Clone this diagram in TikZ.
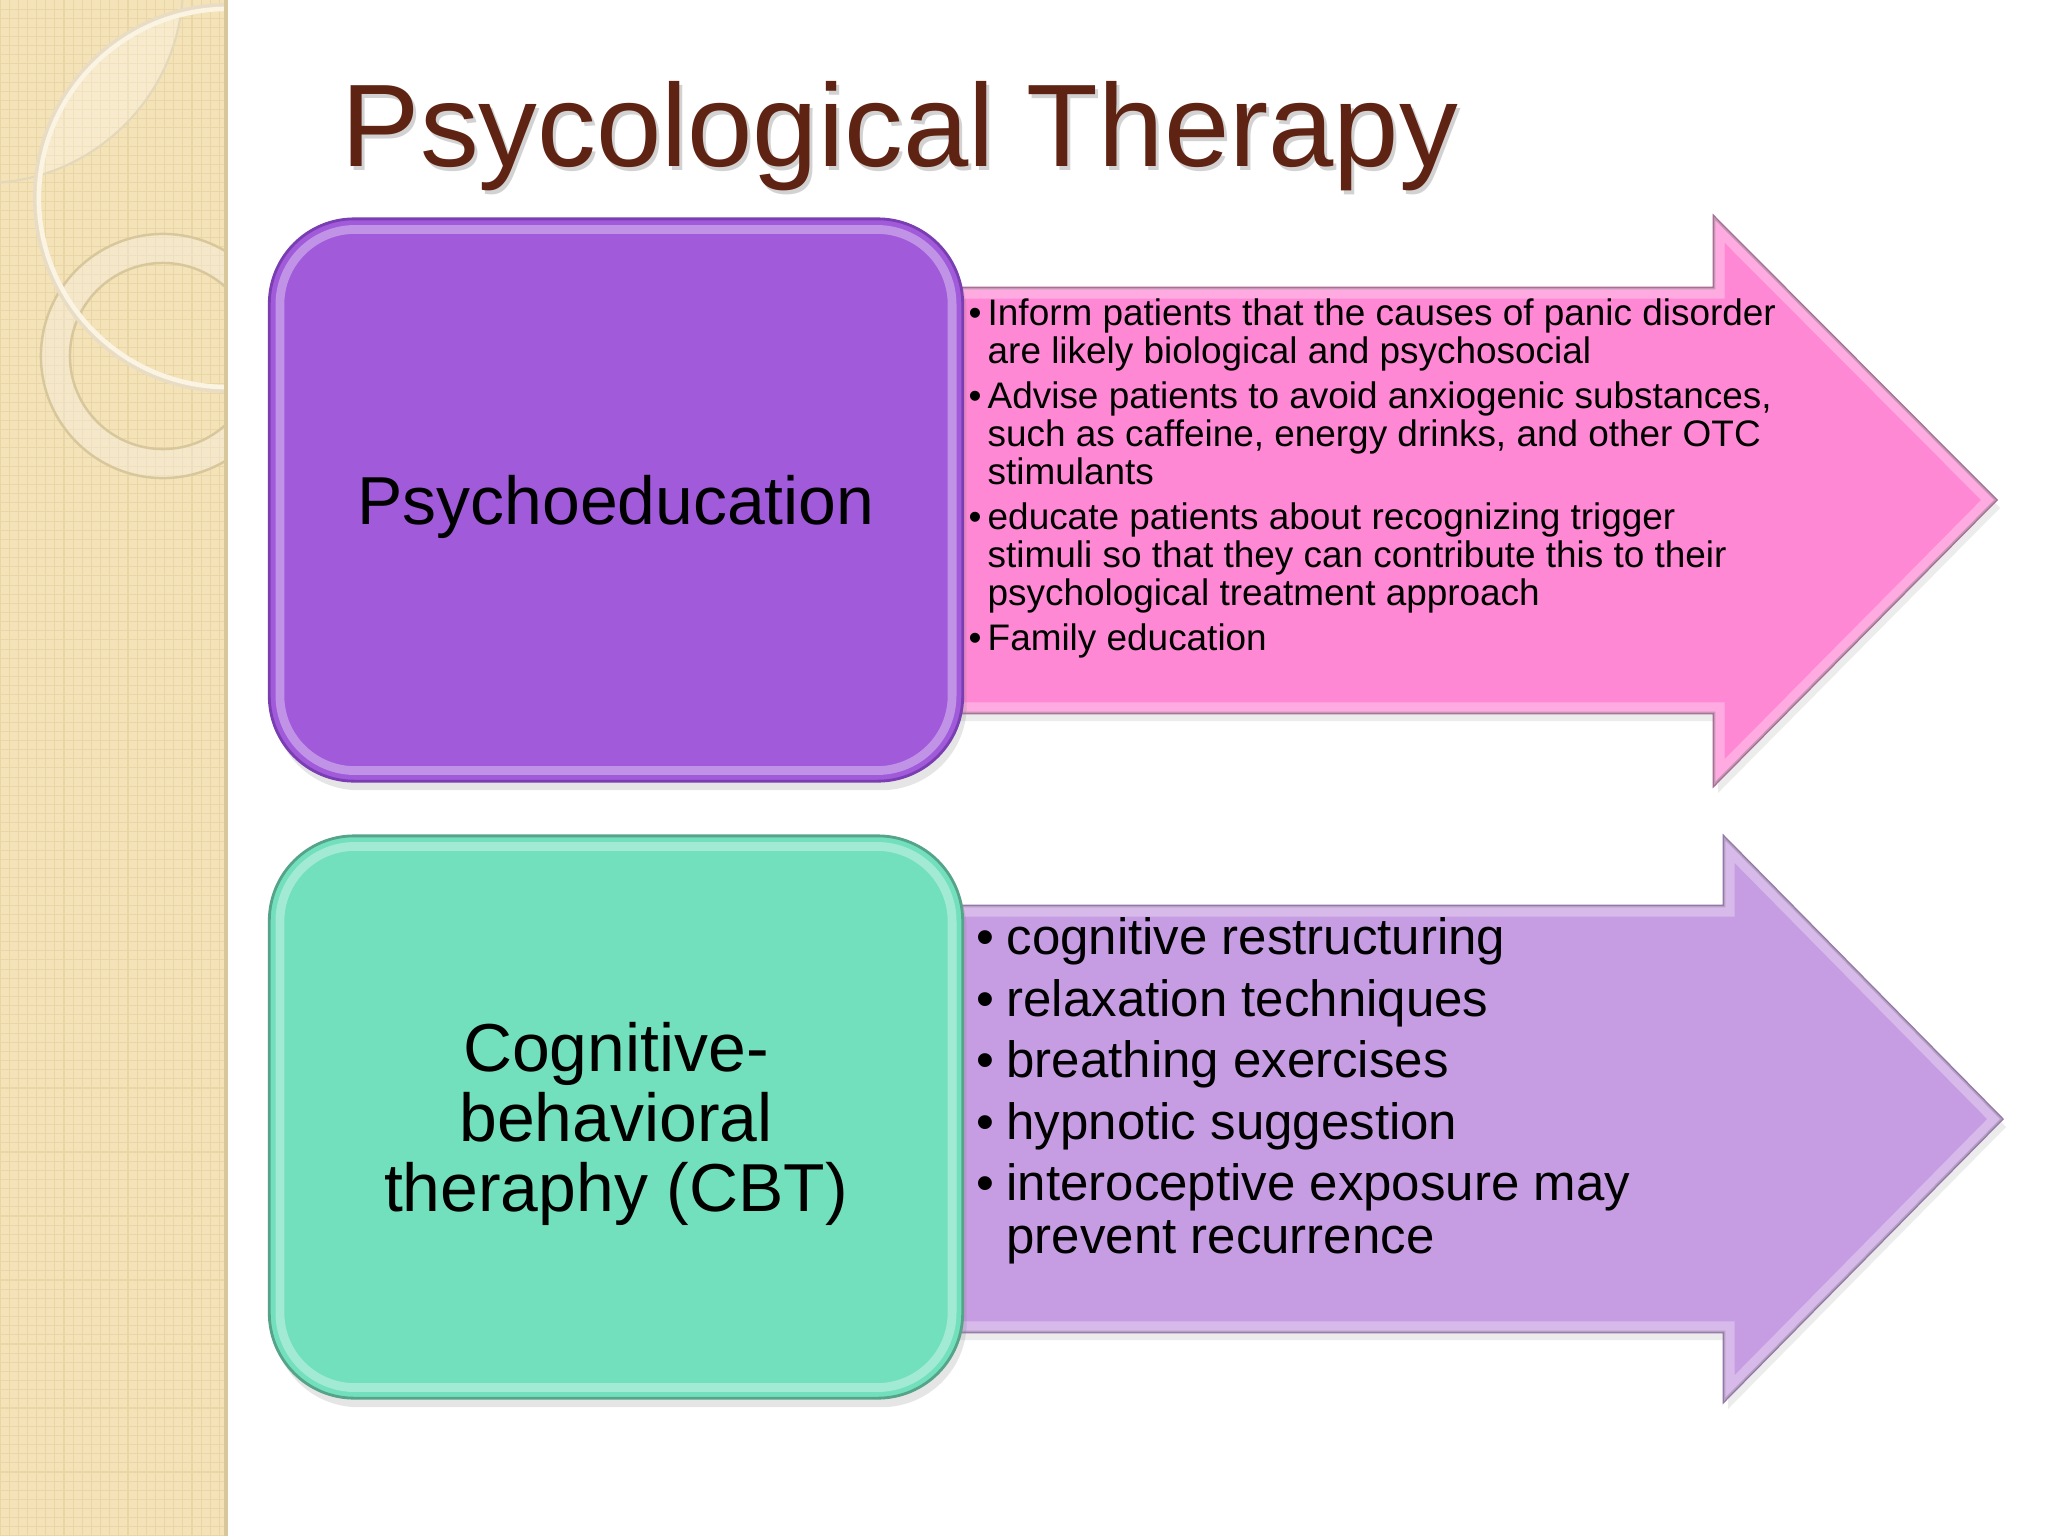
\documentclass[tikz,border=0pt]{standalone}
\usepackage{fontspec}
\setmainfont{Liberation Sans}
\usetikzlibrary{positioning,calc,shadows,patterns.meta}

\definecolor{titlebrown}{HTML}{5E2313}
\definecolor{stripbeige}{HTML}{F4E2B8}
\definecolor{stripgrid}{HTML}{EAD5A4}
\definecolor{stripring}{HTML}{D9C79C}
\definecolor{purplefill}{HTML}{A05ADA}
\definecolor{purpleedge}{HTML}{7A3DB2}
\definecolor{pinkfill}{HTML}{FF88D5}
\definecolor{pinkedge}{HTML}{A86E94}
\definecolor{tealfill}{HTML}{73E0BD}
\definecolor{tealedge}{HTML}{55A489}
\definecolor{lilacfill}{HTML}{C69DE2}
\definecolor{lilacedge}{HTML}{9479A8}

\tikzset{
  panel/.style={rounded corners=0.85cm, minimum width=6.93cm, minimum height=5.62cm,
    align=center, line width=0.8pt, text depth=0pt, font=\fontsize{19.3}{19.9}\selectfont,
    drop shadow={opacity=0.2, shadow xshift=0.4mm, shadow yshift=-0.9mm}}, % linke Kaesten
  shine/.style={white, opacity=0.35, line width=2.5pt, rounded corners=0.75cm}, % Glanzkante
  arrowshape/.style={line width=0.8pt, drop shadow={opacity=0.15, shadow xshift=0.4mm, shadow yshift=-0.8mm}},
  glow/.style={white, opacity=0.3, line width=6pt, line join=miter},
  smalllist/.style={anchor=north west, inner sep=0pt, align=left, font=\fontsize{10.5}{10.9}\selectfont},
  biglist/.style={anchor=north west, inner sep=0pt, align=left, font=\fontsize{14.5}{14.9}\selectfont}
}

\newcommand\sbul{\makebox[5.4pt][l]{\textbullet}}
\newcommand\sgap{\hspace*{5.4pt}}
\newcommand\bbul{\makebox[8.5pt][l]{\textbullet}}
\newcommand\bgap{\hspace*{8.5pt}}

\def\pinkpath{(880,288) -- (1714,288) -- (1714,217) -- (1996,500) -- (1714,785) -- (1714,713) -- (880,713) -- cycle}
\def\lilacpath{(880,906) -- (1724,906) -- (1724,837) -- (2002,1119) -- (1724,1401) -- (1724,1332) -- (880,1332) -- cycle}

\begin{document}
\begin{tikzpicture}[x=0.01cm, y=-0.01cm]
    \useasboundingbox (0,0) rectangle (2048,1536);
    \fill[white] (0,0) rectangle (2048,1536);

    % linker Streifen
    \fill[stripbeige] (0,0) rectangle (226,1536);
    \fill[pattern={Hatch[distance=2.6pt, angle=0, line width=0.3pt]}, pattern color=stripgrid]
      (0,0) rectangle (226,1536);
    \begin{scope}
      \clip (0,0) rectangle (226,1536);
      \begin{scope}
        \clip (-16,-16) circle[radius=1.99cm];
        \fill[white, opacity=0.3] (228,198) circle[radius=1.91cm];
      \end{scope}
      \draw[stripring!70, line width=0.6pt] (-16,-16) circle[radius=1.99cm];
      \fill[white!70!stripring, opacity=0.45, even odd rule] (163,356) circle[radius=1.22cm] (163,356) circle[radius=0.93cm];
      \draw[stripring, line width=0.7pt] (163,356) circle[radius=1.22cm] (163,356) circle[radius=0.93cm];
      \draw[stripring!60, line width=2.2pt] (228,198) circle[radius=1.91cm];
      \draw[white!60!stripbeige, line width=1.3pt] (228,198) circle[radius=1.89cm];
    \end{scope}
    \draw[stripring, line width=1pt] (226,0) -- (226,1536);

    % Titel
    \node[anchor=base west, inner sep=0pt, font=\fontsize{33.4}{34}\selectfont, text=black!35, opacity=0.5]
      (titleshadow) at (344,170) {Psycological Therapy};
    \node[anchor=base west, inner sep=0pt, font=\fontsize{33.4}{34}\selectfont, text=titlebrown]
      (title) at (341,166) {Psycological Therapy};

    % Pfeile
    \draw[arrowshape, fill=pinkfill, draw=pinkedge] \pinkpath;
    \begin{scope}
      \clip \pinkpath;
      \draw[glow] \pinkpath;
    \end{scope}
    \draw[arrowshape, fill=lilacfill, draw=lilacedge] \lilacpath;
    \begin{scope}
      \clip \lilacpath;
      \draw[glow] \lilacpath;
    \end{scope}

    % Kaesten
    \node[panel, fill=purplefill, draw=purpleedge] (psy) at (616,500) {Psychoeducation};
    \draw[shine] ($(psy.north west)+(12,12)$) rectangle ($(psy.south east)+(-12,-12)$);
    \node[panel, fill=tealfill, draw=tealedge] (cbt) at (616,1117) {Cognitive-\\behavioral\\theraphy (CBT)};
    \draw[shine] ($(cbt.north west)+(12,12)$) rectangle ($(cbt.south east)+(-12,-12)$);

    % Listen
    \node[smalllist] (psylist) at (968,298) {%
      \sbul Inform patients that the causes of panic disorder\\
      \sgap are likely biological and psychosocial\\[1.7pt]
      \sbul Advise patients to avoid anxiogenic substances,\\
      \sgap such as caffeine, energy drinks, and other OTC\\
      \sgap stimulants\\[1.7pt]
      \sbul educate patients about recognizing trigger\\
      \sgap stimuli so that they can contribute this to their\\
      \sgap psychological treatment approach\\[1.7pt]
      \sbul Family education};
    \node[biglist] (cbtlist) at (976,917) {%
      \bbul cognitive restructuring\\[2.6pt]
      \bbul relaxation techniques\\[2.6pt]
      \bbul breathing exercises\\[2.6pt]
      \bbul hypnotic suggestion\\[2.6pt]
      \bbul interoceptive exposure may\\
      \bgap prevent recurrence};
\end{tikzpicture}
\end{document}
